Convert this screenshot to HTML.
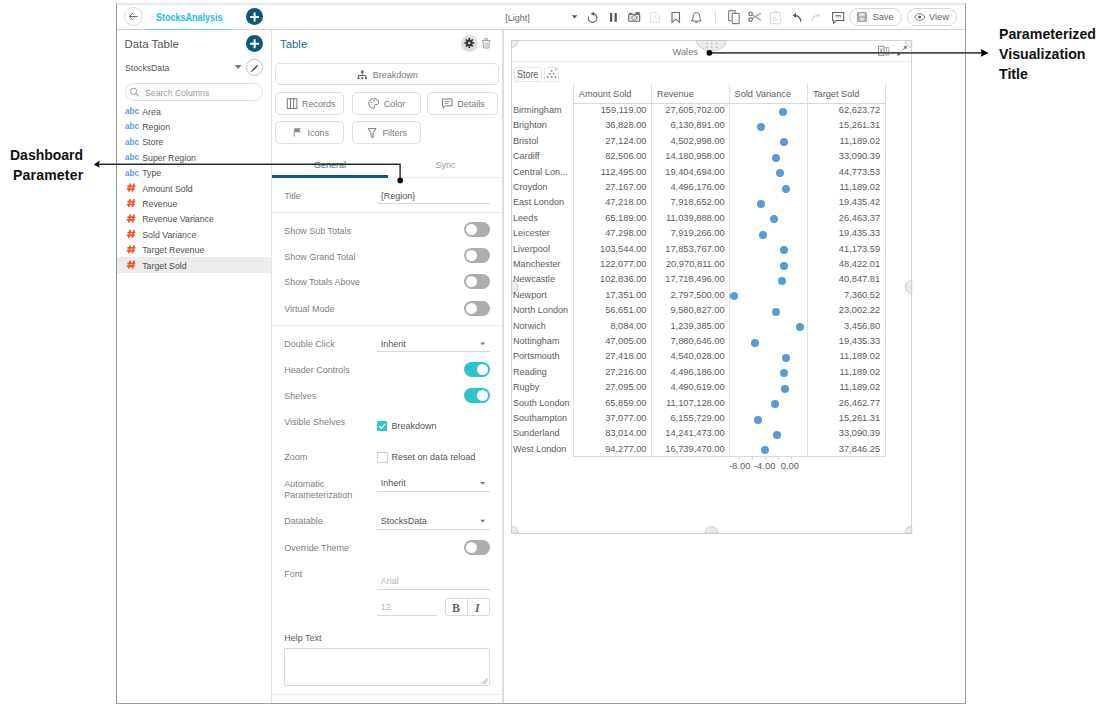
<!DOCTYPE html>
<html><head><meta charset="utf-8">
<style>
*{box-sizing:border-box;margin:0;padding:0}
html,body{width:1101px;height:708px;overflow:hidden;background:#fff;font-family:"Liberation Sans",sans-serif;color:#555}
.a{position:absolute}
.t{position:absolute;white-space:nowrap;line-height:1}
svg{position:absolute;overflow:visible}
.circ{position:absolute;border-radius:50%}
.btn{position:absolute;border:1px solid #dedede;border-radius:5px;background:#fff}
.lbl{position:absolute;white-space:nowrap;font-size:9px;color:#808080;line-height:1}
.val{position:absolute;white-space:nowrap;font-size:9px;color:#555;line-height:1}
.tog{position:absolute;width:26px;height:15px;border-radius:8px;background:#adadad}
.tog:after{content:"";position:absolute;top:2px;left:2px;width:11px;height:11px;border-radius:50%;background:#fff}
.tog.on{background:#2fc4ca}
.tog.on:after{left:13px}
.ul{position:absolute;height:1px;background:#d9d9d9}
.fld{position:absolute;white-space:nowrap;font-size:9px;color:#555;line-height:1}
.ann{position:absolute;white-space:nowrap;font-size:14px;font-weight:bold;color:#111;line-height:1}
.li{position:absolute;left:117px;width:153px;height:15px}
.li .ic{position:absolute;left:8px;top:3px;font-size:8px;font-weight:bold;color:#5b8fe8;line-height:1}
.li .ic.h{left:9px;top:1px;font-size:11px;color:#f0552a}
.li .nm{position:absolute;left:25px;top:3px;font-size:9px;color:#555;line-height:1;white-space:nowrap}
.row{position:absolute;left:0;width:100%;height:15px}
.c{position:absolute;white-space:nowrap;font-size:9px;color:#555;line-height:1;top:3px}
.dot{position:absolute;width:8px;height:8px;border-radius:50%;background:#5b9bd5}
.hd{position:absolute;width:10px;height:5px;background:#ececec;border:1px solid #cfcfcf}
</style></head><body>
<!-- ============ annotations ============ -->
<div class="ann" style="left:10px;top:148px">Dashboard</div>
<div class="ann" style="left:13px;top:168px;letter-spacing:0.2px">Parameter</div>
<div class="ann" style="left:999px;top:27px;font-size:14.2px">Parameterized</div>
<div class="ann" style="left:999px;top:47px;font-size:14.2px">Visualization</div>
<div class="ann" style="left:999px;top:67px;font-size:14.2px">Title</div>

<!-- ============ frame ============ -->
<div class="a" style="left:118px;top:3.3px;width:846px;height:1.6px;background:#e6e7ea"></div>
<div class="a" style="left:116px;top:3px;width:1px;height:701px;background:#999"></div>
<div class="a" style="left:965px;top:3px;width:1px;height:701px;background:#999"></div>
<div class="a" style="left:116px;top:703px;width:850px;height:1px;background:#a3a3a3"></div>

<!-- ============ header ============ -->
<div class="a" style="left:117px;top:29px;width:848px;height:1px;background:#d0d0d0"></div>
<div class="a" style="left:146px;top:28.5px;width:85px;height:1.6px;background:#5cd3ef"></div>
<div class="circ" style="left:124px;top:7px;width:19px;height:19px;border:1px solid #dcdcdc"></div>
<svg style="left:0;top:0" width="1" height="1"><path d="M137.5 16.5H129.5M133 13L129.5 16.5L133 20" fill="none" stroke="#666" stroke-width="1"/></svg>
<div class="t" style="left:155.6px;top:11.9px;font-size:10.6px;font-weight:bold;color:#2db6e4;transform:scaleX(0.85);transform-origin:0 0">StocksAnalysis</div>
<div class="circ" style="left:246px;top:8px;width:17px;height:17px;background:#0d5878"></div>
<svg style="left:0;top:0" width="1" height="1"><path d="M254.6 12.5V21.5M250.1 17H259.1" stroke="#fff" stroke-width="2"/></svg>

<!-- toolbar -->
<div class="t" style="left:505.3px;top:13.5px;font-size:9px;color:#666">[Light]</div>
<svg style="left:0;top:0" width="1" height="1"><path d="M571.8 15.2H577.4L574.6 18.4Z" fill="#555"/></svg>
<svg style="left:0;top:0" width="1" height="1">
 <!-- refresh -->
 <path d="M593 13.75A4.3 4.3 0 1 1 588.56 16.6" fill="none" stroke="#555" stroke-width="1.1"/>
 <path d="M594.2 11.8L594.2 15.8L590.5 13.8Z" fill="#555"/>
 <!-- pause -->
 <rect x="610" y="13" width="2.2" height="8.8" fill="#555"/><rect x="614.6" y="13" width="2.2" height="8.8" fill="#555"/>
 <!-- camera -->
 <rect x="628.7" y="14.3" width="11" height="7" rx="0.8" fill="none" stroke="#666" stroke-width="1.1"/>
 <rect x="629.2" y="12.9" width="3" height="1.6" fill="#666"/><rect x="635.4" y="12.2" width="4.4" height="2.3" fill="#666"/>
 <circle cx="634.2" cy="17.9" r="2.4" fill="none" stroke="#777" stroke-width="1"/><circle cx="634.2" cy="17.9" r="0.7" fill="#888"/>
 <path d="M630.7 15.6V20.4M637.7 15.6V20.4" stroke="#999" stroke-width="0.6"/>
 <!-- pdf faded -->
 <path d="M650.5 12.4H656.5L659.6 15.5V22.3H650.5Z" fill="none" stroke="#e2e2e2" stroke-width="1"/>
 <path d="M653 20L655 15.5L657 20" fill="none" stroke="#e6e6e6" stroke-width="0.8"/>
 <!-- bookmark -->
 <path d="M672 12.5H679.5V22.3L675.75 19.2L672 22.3Z" fill="none" stroke="#666" stroke-width="1.1"/>
 <!-- bell -->
 <path d="M691.6 21H701.2C700 19.5 699.8 18.5 699.8 16.5C699.8 14.2 698.4 12.6 696.4 12.6C694.4 12.6 693 14.2 693 16.5C693 18.5 692.8 19.5 691.6 21Z" fill="none" stroke="#666" stroke-width="1"/>
 <path d="M695.2 22.3H697.6" stroke="#555" stroke-width="1.1"/>
 <!-- separator -->
 <path d="M715.5 11V23" stroke="#ddd" stroke-width="1"/>
 <!-- copy -->
 <path d="M731 20.6H729.5Q728.6 20.6 728.6 19.7V11.5Q728.6 10.6 729.5 10.6H734.3Q735.2 10.6 735.2 11.5V13" fill="none" stroke="#808080" stroke-width="1.1"/>
 <rect x="732.2" y="13.4" width="7" height="10.2" rx="0.9" fill="none" stroke="#808080" stroke-width="1.2"/>
 <!-- scissors -->
 <circle cx="750.6" cy="13.8" r="1.75" fill="none" stroke="#777" stroke-width="1.2"/>
 <circle cx="750.6" cy="19.6" r="1.75" fill="none" stroke="#777" stroke-width="1.2"/>
 <path d="M752.2 14.8L760.8 20.3M752.2 18.6L760.8 13.2" stroke="#999" stroke-width="1.2"/>
 <!-- clipboard faded -->
 <rect x="770.3" y="12.5" width="10" height="11.3" rx="1" fill="none" stroke="#d6d6d6" stroke-width="1"/>
 <path d="M773 12.5L775.3 10.5L777.6 12.5M772.5 17.5H776M772.5 20H778" fill="none" stroke="#d6d6d6" stroke-width="1"/>
 <!-- undo -->
 <path d="M800.8 21.6C800.5 17.8 798.5 15.6 794.5 15.4" fill="none" stroke="#555" stroke-width="1.3"/>
 <path d="M792.7 15.4L796 13L796 18Z" fill="#555"/>
 <!-- redo faded -->
 <path d="M812 21.6C812.3 17.8 814.3 15.6 818.3 15.4" fill="none" stroke="#d4d4d4" stroke-width="1.2"/>
 <path d="M820.3 15.4L817 13.2L817 17.6Z" fill="#d4d4d4"/>
 <!-- comment -->
 <path d="M832.6 12.5H843.7V20.5H836.2L833.6 23.2V20.5H832.6Z" fill="none" stroke="#666" stroke-width="1.1"/>
 <path d="M835.6 15.5H840.8M836.1 15.5V17.3M838.2 15.5V17.3M840.3 15.5V17.3" stroke="#666" stroke-width="0.8"/>
</svg>
<!-- Save / View -->
<div class="a" style="left:849px;top:8px;width:53px;height:18px;border:1px solid #d8d8d8;border-radius:9px"></div>
<svg style="left:0;top:0" width="1" height="1">
 <rect x="857.4" y="12.6" width="9" height="9" rx="1.2" fill="#b0b0b0" stroke="#8c8c8c" stroke-width="0.8"/>
 <rect x="859.2" y="13.2" width="5.4" height="3" fill="#e6e6e6"/>
 <rect x="859.6" y="17.8" width="4.6" height="3" rx="1" fill="#dcdcdc"/>
</svg>
<div class="t" style="left:872.5px;top:12.5px;font-size:9.3px;color:#666">Save</div>
<div class="a" style="left:907px;top:8px;width:50px;height:18px;border:1px solid #d8d8d8;border-radius:9px"></div>
<svg style="left:0;top:0" width="1" height="1">
 <path d="M914.5 17C916.5 14.2 918.6 13.5 919.7 13.5C920.8 13.5 922.9 14.2 924.9 17C922.9 19.8 920.8 20.5 919.7 20.5C918.6 20.5 916.5 19.8 914.5 17Z" fill="none" stroke="#777" stroke-width="1"/>
 <circle cx="919.7" cy="17" r="1.6" fill="#666"/>
</svg>
<div class="t" style="left:929px;top:12.5px;font-size:9.3px;color:#666">View</div>
<!-- ============ left panel ============ -->
<div class="a" style="left:271px;top:30px;width:1px;height:673px;background:#e3e3e3"></div>
<div class="t" style="left:124.5px;top:38.5px;font-size:11.4px;color:#555">Data Table</div>
<div class="circ" style="left:246px;top:35px;width:17px;height:17px;background:#0d5878"></div>
<svg style="left:0;top:0" width="1" height="1"><path d="M254.6 39.2V48.2M250.1 43.7H259.1" stroke="#fff" stroke-width="2"/></svg>
<div class="t" style="left:125px;top:64.4px;font-size:8.7px;color:#555">StocksData</div>
<svg style="left:0;top:0" width="1" height="1"><path d="M234.6 64.9H241.6L238.1 69.1Z" fill="#777"/></svg>
<div class="circ" style="left:246.2px;top:59px;width:17.2px;height:17.2px;border:1.2px solid #c2c2c2"></div>
<svg style="left:0;top:0" width="1" height="1"><path d="M252.4 70.6L257.6 65.4" stroke="#333" stroke-width="1.3"/><path d="M250.9 72.1L251.4 70.3L252.7 71.6Z" fill="#444"/></svg>
<div class="a" style="left:124.5px;top:83.3px;width:138.8px;height:17.4px;border:1px solid #e0e0e0;border-radius:9px"></div>
<svg style="left:0;top:0" width="1" height="1"><circle cx="133.6" cy="91.3" r="3.1" fill="none" stroke="#9a9a9a" stroke-width="1"/><path d="M135.9 93.6L138.3 96" stroke="#9a9a9a" stroke-width="1.1"/></svg>
<div class="t" style="left:145px;top:88.7px;font-size:8.7px;color:#9a9a9a">Search Columns</div>
<div class="a" style="left:117px;top:257.4px;width:154px;height:15.2px;background:#ececec"></div>
<div class="t" style="left:124.9px;top:108.0px;font-size:8.2px;font-weight:bold;color:#6396f2">abc</div><div class="t" style="left:142.2px;top:107.6px;font-size:8.8px;color:#4f4f4f">Area</div>
<div class="t" style="left:124.9px;top:123.4px;font-size:8.2px;font-weight:bold;color:#6396f2">abc</div><div class="t" style="left:142.2px;top:123.0px;font-size:8.8px;color:#4f4f4f">Region</div>
<div class="t" style="left:124.9px;top:138.8px;font-size:8.2px;font-weight:bold;color:#6396f2">abc</div><div class="t" style="left:142.2px;top:138.4px;font-size:8.8px;color:#4f4f4f">Store</div>
<div class="t" style="left:124.9px;top:154.2px;font-size:8.2px;font-weight:bold;color:#6396f2">abc</div><div class="t" style="left:142.2px;top:153.8px;font-size:8.8px;color:#4f4f4f">Super Region</div>
<div class="t" style="left:124.9px;top:169.6px;font-size:8.2px;font-weight:bold;color:#6396f2">abc</div><div class="t" style="left:142.2px;top:169.2px;font-size:8.8px;color:#4f4f4f">Type</div>
<div class="t" style="left:142.2px;top:184.6px;font-size:8.8px;color:#4f4f4f">Amount Sold</div>
<div class="t" style="left:142.2px;top:200.0px;font-size:8.8px;color:#4f4f4f">Revenue</div>
<div class="t" style="left:142.2px;top:215.4px;font-size:8.8px;color:#4f4f4f">Revenue Variance</div>
<div class="t" style="left:142.2px;top:230.8px;font-size:8.8px;color:#4f4f4f">Sold Variance</div>
<div class="t" style="left:142.2px;top:246.2px;font-size:8.8px;color:#4f4f4f">Target Revenue</div>
<div class="t" style="left:142.2px;top:261.6px;font-size:8.8px;color:#4f4f4f">Target Sold</div>
<svg style="left:0;top:0" width="1" height="1"><g stroke="#f7521f" stroke-width="1.7" fill="none"><path d="M130.3 183.7L128.7 191.7M134 183.7L132.4 191.7M127.4 186.3H135.3M126.8 189.1H134.7"/><path d="M130.3 199.1L128.7 207.1M134 199.1L132.4 207.1M127.4 201.7H135.3M126.8 204.5H134.7"/><path d="M130.3 214.5L128.7 222.5M134 214.5L132.4 222.5M127.4 217.1H135.3M126.8 219.9H134.7"/><path d="M130.3 229.9L128.7 237.9M134 229.9L132.4 237.9M127.4 232.5H135.3M126.8 235.3H134.7"/><path d="M130.3 245.3L128.7 253.3M134 245.3L132.4 253.3M127.4 247.9H135.3M126.8 250.7H134.7"/><path d="M130.3 260.7L128.7 268.7M134 260.7L132.4 268.7M127.4 263.3H135.3M126.8 266.1H134.7"/></g></svg>
<!-- ============ middle panel ============ -->
<div class="a" style="left:502px;top:30px;width:2px;height:673px;background:#dcdcdc"></div>
<div class="t" style="left:280px;top:39px;font-size:11.4px;color:#2a6b86">Table</div>
<div class="circ" style="left:460.9px;top:34.6px;width:17px;height:17px;background:#dedede"></div>
<svg style="left:0;top:0" width="1" height="1">
 <g transform="translate(469.3 43)">
  <circle r="3.2" fill="#333"/>
  <path d="M0 -5V5M-5 0H5M-3.5 -3.5L3.5 3.5M-3.5 3.5L3.5 -3.5" stroke="#333" stroke-width="1.7"/>
  <circle r="1.3" fill="#dedede"/>
 </g>
 <!-- trash -->
 <path d="M481.9 40.6H490.4M484.6 40.6V38.8H487.7V40.6" fill="none" stroke="#999" stroke-width="1"/>
 <path d="M482.9 41.2L483.5 48H488.8L489.4 41.2" fill="none" stroke="#999" stroke-width="1"/>
 <path d="M485 42.2V47M486.15 42.2V47M487.3 42.2V47" stroke="#b0b0b0" stroke-width="0.7"/>
</svg>

<!-- shelves buttons -->
<div class="btn" style="left:274.8px;top:62.7px;width:224.5px;height:22.3px"></div>
<svg style="left:0;top:0" width="1" height="1">
 <rect x="361" y="70.5" width="2.6" height="2.6" fill="#666"/>
 <path d="M362.3 73V75.5M358.5 78V75.5H366V78" fill="none" stroke="#666" stroke-width="1"/>
 <rect x="357.6" y="77.2" width="2" height="2" fill="#666"/><rect x="365" y="77.2" width="2" height="2" fill="#666"/><rect x="361.3" y="77.2" width="2" height="2" fill="#666"/>
</svg>
<div class="t" style="left:372.8px;top:71.2px;font-size:9px;color:#7a7a7a">Breakdown</div>

<div class="btn" style="left:274.8px;top:91.7px;width:69.7px;height:22.9px"></div>
<svg style="left:0;top:0" width="1" height="1"><rect x="287.3" y="98.8" width="9.6" height="9.6" fill="none" stroke="#777" stroke-width="1"/><path d="M290.5 98.8V108.4M293.7 98.8V108.4" stroke="#777" stroke-width="1"/></svg>
<div class="t" style="left:302px;top:100.4px;font-size:9px;color:#7a7a7a">Records</div>

<div class="btn" style="left:351.5px;top:91.7px;width:69.8px;height:22.9px"></div>
<svg style="left:0;top:0" width="1" height="1"><path d="M373.5 108.2C370.4 108.2 368.8 105.8 368.8 103.4C368.8 100.6 371 98.6 373.8 98.6C376.6 98.6 378.6 100.4 378.6 102.4C378.6 104.2 377.2 104.6 376 104.6C374.6 104.6 374 105.2 374.4 106.4C374.8 107.4 374.6 108.2 373.5 108.2Z" fill="none" stroke="#777" stroke-width="1"/><circle cx="371.4" cy="102.2" r="0.8" fill="#777"/><circle cx="374" cy="100.8" r="0.8" fill="#777"/></svg>
<div class="t" style="left:383.8px;top:100.4px;font-size:9px;color:#7a7a7a">Color</div>

<div class="btn" style="left:427.4px;top:91.7px;width:70.2px;height:22.9px"></div>
<svg style="left:0;top:0" width="1" height="1"><path d="M442.4 99H452V105.8H445.5L443.2 108V105.8H442.4Z" fill="none" stroke="#777" stroke-width="1"/><path d="M444.6 101.6H449.8M444.6 103.4H448.5" stroke="#777" stroke-width="0.8"/></svg>
<div class="t" style="left:457.2px;top:100.4px;font-size:9px;color:#7a7a7a">Details</div>

<div class="btn" style="left:274.8px;top:121px;width:69.7px;height:22.8px"></div>
<svg style="left:0;top:0" width="1" height="1"><path d="M294.3 128.2V136.8" stroke="#999" stroke-width="1"/><path d="M294.8 128.2H300.8L299.4 130.2L300.8 132.2H294.8Z" fill="#8a8a8a"/></svg>
<div class="t" style="left:307.5px;top:129.3px;font-size:9px;color:#7a7a7a">Icons</div>

<div class="btn" style="left:351.5px;top:121px;width:69.8px;height:22.8px"></div>
<svg style="left:0;top:0" width="1" height="1"><path d="M368.2 128.6H376L373.2 132.6V137.6L371 136.4V132.6Z" fill="none" stroke="#777" stroke-width="1" stroke-linejoin="round"/></svg>
<div class="t" style="left:382.6px;top:129.3px;font-size:9px;color:#7a7a7a">Filters</div>

<!-- tabs -->
<div class="t" style="left:314px;top:160.8px;font-size:9px;color:#3f6f86">General</div>
<div class="t" style="left:435.4px;top:160.8px;font-size:9px;color:#9a9a9a">Sync</div>
<div class="a" style="left:272px;top:177px;width:230px;height:1px;background:#ececec"></div>
<div class="a" style="left:271.5px;top:175px;width:116px;height:2.5px;background:#0d5878"></div>

<!-- fields -->
<div class="lbl" style="left:284.2px;top:192.4px">Title</div>
<div class="fld" style="left:380.7px;top:192.2px">{Region}</div>
<div class="ul" style="left:377px;top:203px;width:113px"></div>
<div class="a" style="left:272px;top:212px;width:230px;height:1px;background:#ececec"></div>

<div class="lbl" style="left:284.2px;top:226.5px">Show Sub Totals</div>
<div class="tog" style="left:463.9px;top:222.4px"></div>
<div class="lbl" style="left:284.2px;top:252.5px">Show Grand Total</div>
<div class="tog" style="left:463.9px;top:248.4px"></div>
<div class="lbl" style="left:284.2px;top:278.4px">Show Totals Above</div>
<div class="tog" style="left:463.9px;top:274.4px"></div>
<div class="lbl" style="left:284.2px;top:304.9px">Virtual Mode</div>
<div class="tog" style="left:463.9px;top:300.8px"></div>
<div class="a" style="left:272px;top:325px;width:230px;height:1px;background:#ececec"></div>

<div class="lbl" style="left:284.2px;top:339.7px">Double Click</div>
<div class="fld" style="left:380.7px;top:339.5px">Inherit</div>
<svg style="left:0;top:0" width="1" height="1"><path d="M480.2 342.5H485.2L482.7 345.2Z" fill="#777"/></svg>
<div class="ul" style="left:377px;top:351px;width:113px"></div>

<div class="lbl" style="left:284.2px;top:365.6px">Header Controls</div>
<div class="tog on" style="left:463.9px;top:361.6px"></div>
<div class="lbl" style="left:284.2px;top:392.1px">Shelves</div>
<div class="tog on" style="left:463.9px;top:388px"></div>

<div class="lbl" style="left:284.2px;top:418.1px">Visible Shelves</div>
<div class="a" style="left:377px;top:421px;width:10.3px;height:10.3px;background:#2fc4ca;border-radius:1px"></div>
<svg style="left:0;top:0" width="1" height="1"><path d="M379.2 426.2L381.4 428.4L385.2 423.8" fill="none" stroke="#fff" stroke-width="1.3"/></svg>
<div class="fld" style="left:391.6px;top:422.1px">Breakdown</div>

<div class="lbl" style="left:284.2px;top:452.6px">Zoom</div>
<div class="a" style="left:377px;top:452px;width:10.5px;height:10.5px;border:1px solid #cfcfcf;border-radius:1px"></div>
<div class="fld" style="left:391.6px;top:452.6px">Reset on data reload</div>

<div class="lbl" style="left:284.2px;top:479.9px">Automatic</div>
<div class="lbl" style="left:284.2px;top:491.4px">Parameterization</div>
<div class="fld" style="left:380.7px;top:479px">Inherit</div>
<svg style="left:0;top:0" width="1" height="1"><path d="M480.2 482H485.2L482.7 484.7Z" fill="#777"/></svg>
<div class="ul" style="left:377px;top:491px;width:113px"></div>

<div class="lbl" style="left:284.2px;top:517.4px">Datatable</div>
<div class="fld" style="left:380.7px;top:517.2px">StocksData</div>
<svg style="left:0;top:0" width="1" height="1"><path d="M480.2 519.8H485.2L482.7 522.5Z" fill="#777"/></svg>
<div class="ul" style="left:377px;top:529px;width:113px"></div>

<div class="lbl" style="left:284.2px;top:543.9px">Override Theme</div>
<div class="tog" style="left:463.9px;top:540px"></div>

<div class="lbl" style="left:284.2px;top:569.9px">Font</div>
<div class="fld" style="left:380.7px;top:576.6px;color:#b5b5b5">Arial</div>
<div class="ul" style="left:377px;top:589px;width:113px"></div>
<div class="fld" style="left:380.7px;top:603.1px;color:#b5b5b5">12</div>
<div class="ul" style="left:377px;top:615px;width:60px"></div>
<div class="a" style="left:444.7px;top:598px;width:45.2px;height:18.2px;border:1px solid #dadada;border-radius:3px"></div>
<div class="a" style="left:467.4px;top:598.5px;width:1px;height:17.5px;background:#dadada"></div>
<div class="t" style="left:452px;top:601.5px;font-family:'Liberation Serif',serif;font-size:12px;font-weight:bold;color:#666">B</div>
<div class="t" style="left:475px;top:601.5px;font-family:'Liberation Serif',serif;font-size:12px;font-weight:bold;font-style:italic;color:#666">I</div>

<div class="lbl" style="left:284.2px;top:634.1px;color:#5a5a5a">Help Text</div>
<div class="a" style="left:284.2px;top:647.5px;width:205.5px;height:38.3px;border:1px solid #d9d9d9;border-radius:2px"></div>
<svg style="left:0;top:0" width="1" height="1"><path d="M481.5 684L487.5 678M484 684L487.5 680.5" stroke="#888" stroke-width="0.8"/></svg>
<div class="a" style="left:272px;top:693.5px;width:230px;height:1px;background:#ececec"></div>
<!-- ============ visualization ============ -->
<div class="a" style="left:511px;top:40px;width:401px;height:493.5px;border:1px solid #d2d2d2"></div>
<div class="a" style="left:512px;top:60.5px;width:399px;height:1px;background:#ececec"></div>
<svg style="left:0;top:0" width="1" height="1">
 <path d="M511.5 47.3A6.8 6.8 0 0 0 518.3 40.5H511.5Z" fill="#ececec" stroke="#c8c8c8" stroke-width="0.9"/>
 <path d="M911.8 47.3A6.8 6.8 0 0 1 905 40.5H911.8Z" fill="#ececec" stroke="#c8c8c8" stroke-width="0.9"/>
 <path d="M511.5 526.2A6.8 6.8 0 0 1 518.3 533H511.5Z" fill="#ececec" stroke="#c8c8c8" stroke-width="0.9"/>
 <path d="M911.8 526.2A6.8 6.8 0 0 0 905 533H911.8Z" fill="#ececec" stroke="#c8c8c8" stroke-width="0.9"/>
 <path d="M511.5 280.5A6.5 6.5 0 0 1 511.5 293.5Z" fill="#ececec" stroke="#c8c8c8" stroke-width="0.9"/>
 <path d="M911.8 280.5A6.5 6.5 0 0 0 911.8 293.5Z" fill="#ececec" stroke="#c8c8c8" stroke-width="0.9"/>
 <path d="M705 533A6.5 6.5 0 0 1 718 533Z" fill="#ececec" stroke="#c8c8c8" stroke-width="0.9"/>
 <path d="M696.3 40.5C697.5 47 703.5 50.8 711.4 50.8C719.3 50.8 725.3 47 726.5 40.5Z" fill="#ececec" stroke="#c6c6c6" stroke-width="0.9"/>
 <g fill="#c2c2c2"><circle cx="707" cy="43.5" r="1"/><circle cx="711.7" cy="43.5" r="1"/><circle cx="716.5" cy="43.5" r="1"/><circle cx="707" cy="47.3" r="1"/><circle cx="711.7" cy="47.3" r="1"/><circle cx="716.5" cy="47.3" r="1"/></g>
 <!-- excel icon -->
 <path d="M878.5 46.2H884V55.4H878.5Z" fill="none" stroke="#8a8a8a" stroke-width="1"/>
 <path d="M880 48.5L882.5 52.8M882.5 48.5L880 52.8" stroke="#7a7a7a" stroke-width="0.8"/>
 <path d="M884.5 47.6H888.8V55H884.5M886.6 47.6V55" fill="none" stroke="#a0a0a0" stroke-width="0.9"/>
 <!-- expand icon -->
 <path d="M902.4 50.2L906 46.8M897.8 55L901.2 51.8" stroke="#777" stroke-width="1"/>
 <path d="M906.8 46L903.4 46.6L906.2 49.4Z" fill="#666"/>
 <path d="M897.2 55.6L900.6 55L897.8 52.2Z" fill="#555"/>
</svg>
<div class="t" style="left:672.5px;top:47.7px;font-size:9.3px;color:#7a7a7a">Wales</div>

<div class="a" style="left:514px;top:66.5px;width:28.2px;height:15px;border:1px solid #e8e8e8;border-radius:2px"></div>
<div class="t" style="left:517.4px;top:68.6px;font-size:10.5px;color:#5c5c5c;transform:scaleX(0.85);transform-origin:0 0">Store</div>
<div class="a" style="left:544.3px;top:66.5px;width:15px;height:15px;border:1px solid #e8e8e8;border-radius:2px"></div>
<svg style="left:0;top:0" width="1" height="1"><g fill="#8a8a8a"><circle cx="551.6" cy="70.8" r="0.95"/><circle cx="549.7" cy="73.9" r="0.95"/><circle cx="553.6" cy="73.9" r="0.95"/><circle cx="547.7" cy="77" r="0.95"/><circle cx="551.6" cy="77" r="0.95"/><circle cx="555.5" cy="77" r="0.95"/></g><path d="M555.9 68.3V70.9M554.6 69.6H557.2" stroke="#aaa" stroke-width="0.7"/></svg>

<!-- grid -->
<div class="a" style="left:572.5px;top:84px;width:1px;height:373px;background:#e0e0e0"></div>
<div class="a" style="left:650.5px;top:84px;width:1px;height:373px;background:#e0e0e0"></div>
<div class="a" style="left:728.5px;top:84px;width:1px;height:373px;background:#e0e0e0"></div>
<div class="a" style="left:806.5px;top:84px;width:1px;height:373px;background:#e0e0e0"></div>
<div class="a" style="left:884.5px;top:84px;width:1px;height:373px;background:#e0e0e0"></div>
<div class="a" style="left:572.5px;top:103px;width:313px;height:1px;background:#d8d8d8"></div>
<div class="a" style="left:572.5px;top:456px;width:313px;height:1px;background:#d8d8d8"></div>
<div class="t" style="left:578.8px;top:90.2px;font-size:9.2px;color:#5c5c5c">Amount Sold</div>
<div class="t" style="left:657px;top:90.2px;font-size:9.2px;color:#5c5c5c">Revenue</div>
<div class="t" style="left:734.5px;top:90.2px;font-size:9.2px;color:#5c5c5c">Sold Variance</div>
<div class="t" style="left:813px;top:90.2px;font-size:9.2px;color:#5c5c5c">Target Sold</div>
<div class="t" style="left:513px;top:105.9px;font-size:9.1px;color:#5c5c5c">Birmingham</div><div class="t" style="right:454.5px;top:105.9px;font-size:9.3px;color:#5c5c5c">159,119.00</div><div class="t" style="right:376.3px;top:105.9px;font-size:9.3px;color:#5c5c5c">27,605,702.00</div><div class="t" style="right:220.8px;top:105.9px;font-size:9.3px;color:#5c5c5c">62,623.72</div><div class="dot" style="left:779.0px;top:107.6px"></div>
<div class="t" style="left:513px;top:121.3px;font-size:9.1px;color:#5c5c5c">Brighton</div><div class="t" style="right:454.5px;top:121.3px;font-size:9.3px;color:#5c5c5c">36,828.00</div><div class="t" style="right:376.3px;top:121.3px;font-size:9.3px;color:#5c5c5c">6,130,891.00</div><div class="t" style="right:220.8px;top:121.3px;font-size:9.3px;color:#5c5c5c">15,261.31</div><div class="dot" style="left:756.6px;top:123.0px"></div>
<div class="t" style="left:513px;top:136.7px;font-size:9.1px;color:#5c5c5c">Bristol</div><div class="t" style="right:454.5px;top:136.7px;font-size:9.3px;color:#5c5c5c">27,124.00</div><div class="t" style="right:376.3px;top:136.7px;font-size:9.3px;color:#5c5c5c">4,502,998.00</div><div class="t" style="right:220.8px;top:136.7px;font-size:9.3px;color:#5c5c5c">11,189.02</div><div class="dot" style="left:779.8px;top:138.4px"></div>
<div class="t" style="left:513px;top:152.1px;font-size:9.1px;color:#5c5c5c">Cardiff</div><div class="t" style="right:454.5px;top:152.1px;font-size:9.3px;color:#5c5c5c">82,506.00</div><div class="t" style="right:376.3px;top:152.1px;font-size:9.3px;color:#5c5c5c">14,180,958.00</div><div class="t" style="right:220.8px;top:152.1px;font-size:9.3px;color:#5c5c5c">33,090.39</div><div class="dot" style="left:771.8px;top:153.8px"></div>
<div class="t" style="left:513px;top:167.5px;font-size:9.1px;color:#5c5c5c">Central Lon...</div><div class="t" style="right:454.5px;top:167.5px;font-size:9.3px;color:#5c5c5c">112,495.00</div><div class="t" style="right:376.3px;top:167.5px;font-size:9.3px;color:#5c5c5c">19,404,694.00</div><div class="t" style="right:220.8px;top:167.5px;font-size:9.3px;color:#5c5c5c">44,773.53</div><div class="dot" style="left:776.1px;top:169.2px"></div>
<div class="t" style="left:513px;top:182.9px;font-size:9.1px;color:#5c5c5c">Croydon</div><div class="t" style="right:454.5px;top:182.9px;font-size:9.3px;color:#5c5c5c">27,167.00</div><div class="t" style="right:376.3px;top:182.9px;font-size:9.3px;color:#5c5c5c">4,496,176.00</div><div class="t" style="right:220.8px;top:182.9px;font-size:9.3px;color:#5c5c5c">11,189.02</div><div class="dot" style="left:781.9px;top:184.6px"></div>
<div class="t" style="left:513px;top:198.3px;font-size:9.1px;color:#5c5c5c">East London</div><div class="t" style="right:454.5px;top:198.3px;font-size:9.3px;color:#5c5c5c">47,218.00</div><div class="t" style="right:376.3px;top:198.3px;font-size:9.3px;color:#5c5c5c">7,918,652.00</div><div class="t" style="right:220.8px;top:198.3px;font-size:9.3px;color:#5c5c5c">19,435.42</div><div class="dot" style="left:756.5px;top:200.0px"></div>
<div class="t" style="left:513px;top:213.7px;font-size:9.1px;color:#5c5c5c">Leeds</div><div class="t" style="right:454.5px;top:213.7px;font-size:9.3px;color:#5c5c5c">65,189.00</div><div class="t" style="right:376.3px;top:213.7px;font-size:9.3px;color:#5c5c5c">11,039,888.00</div><div class="t" style="right:220.8px;top:213.7px;font-size:9.3px;color:#5c5c5c">26,463.37</div><div class="dot" style="left:770.3px;top:215.4px"></div>
<div class="t" style="left:513px;top:229.1px;font-size:9.1px;color:#5c5c5c">Leicester</div><div class="t" style="right:454.5px;top:229.1px;font-size:9.3px;color:#5c5c5c">47,298.00</div><div class="t" style="right:376.3px;top:229.1px;font-size:9.3px;color:#5c5c5c">7,919,266.00</div><div class="t" style="right:220.8px;top:229.1px;font-size:9.3px;color:#5c5c5c">19,435.33</div><div class="dot" style="left:759.4px;top:230.8px"></div>
<div class="t" style="left:513px;top:244.5px;font-size:9.1px;color:#5c5c5c">Liverpool</div><div class="t" style="right:454.5px;top:244.5px;font-size:9.3px;color:#5c5c5c">103,544.00</div><div class="t" style="right:376.3px;top:244.5px;font-size:9.3px;color:#5c5c5c">17,853,767.00</div><div class="t" style="right:220.8px;top:244.5px;font-size:9.3px;color:#5c5c5c">41,173.59</div><div class="dot" style="left:779.8px;top:246.2px"></div>
<div class="t" style="left:513px;top:259.9px;font-size:9.1px;color:#5c5c5c">Manchester</div><div class="t" style="right:454.5px;top:259.9px;font-size:9.3px;color:#5c5c5c">122,077.00</div><div class="t" style="right:376.3px;top:259.9px;font-size:9.3px;color:#5c5c5c">20,970,811.00</div><div class="t" style="right:220.8px;top:259.9px;font-size:9.3px;color:#5c5c5c">48,422.01</div><div class="dot" style="left:780.4px;top:261.6px"></div>
<div class="t" style="left:513px;top:275.3px;font-size:9.1px;color:#5c5c5c">Newcastle</div><div class="t" style="right:454.5px;top:275.3px;font-size:9.3px;color:#5c5c5c">102,836.00</div><div class="t" style="right:376.3px;top:275.3px;font-size:9.3px;color:#5c5c5c">17,718,496.00</div><div class="t" style="right:220.8px;top:275.3px;font-size:9.3px;color:#5c5c5c">40,847.81</div><div class="dot" style="left:778.1px;top:277.0px"></div>
<div class="t" style="left:513px;top:290.7px;font-size:9.1px;color:#5c5c5c">Newport</div><div class="t" style="right:454.5px;top:290.7px;font-size:9.3px;color:#5c5c5c">17,351.00</div><div class="t" style="right:376.3px;top:290.7px;font-size:9.3px;color:#5c5c5c">2,797,500.00</div><div class="t" style="right:220.8px;top:290.7px;font-size:9.3px;color:#5c5c5c">7,360.52</div><div class="dot" style="left:730.2px;top:292.4px"></div>
<div class="t" style="left:513px;top:306.1px;font-size:9.1px;color:#5c5c5c">North London</div><div class="t" style="right:454.5px;top:306.1px;font-size:9.3px;color:#5c5c5c">56,651.00</div><div class="t" style="right:376.3px;top:306.1px;font-size:9.3px;color:#5c5c5c">9,580,827.00</div><div class="t" style="right:220.8px;top:306.1px;font-size:9.3px;color:#5c5c5c">23,002.22</div><div class="dot" style="left:772.1px;top:307.8px"></div>
<div class="t" style="left:513px;top:321.5px;font-size:9.1px;color:#5c5c5c">Norwich</div><div class="t" style="right:454.5px;top:321.5px;font-size:9.3px;color:#5c5c5c">8,084.00</div><div class="t" style="right:376.3px;top:321.5px;font-size:9.3px;color:#5c5c5c">1,239,385.00</div><div class="t" style="right:220.8px;top:321.5px;font-size:9.3px;color:#5c5c5c">3,456.80</div><div class="dot" style="left:795.9px;top:323.2px"></div>
<div class="t" style="left:513px;top:336.9px;font-size:9.1px;color:#5c5c5c">Nottingham</div><div class="t" style="right:454.5px;top:336.9px;font-size:9.3px;color:#5c5c5c">47,005.00</div><div class="t" style="right:376.3px;top:336.9px;font-size:9.3px;color:#5c5c5c">7,880,646.00</div><div class="t" style="right:220.8px;top:336.9px;font-size:9.3px;color:#5c5c5c">19,435.33</div><div class="dot" style="left:751.1px;top:338.6px"></div>
<div class="t" style="left:513px;top:352.3px;font-size:9.1px;color:#5c5c5c">Portsmouth</div><div class="t" style="right:454.5px;top:352.3px;font-size:9.3px;color:#5c5c5c">27,418.00</div><div class="t" style="right:376.3px;top:352.3px;font-size:9.3px;color:#5c5c5c">4,540,028.00</div><div class="t" style="right:220.8px;top:352.3px;font-size:9.3px;color:#5c5c5c">11,189.02</div><div class="dot" style="left:782.1px;top:354.0px"></div>
<div class="t" style="left:513px;top:367.7px;font-size:9.1px;color:#5c5c5c">Reading</div><div class="t" style="right:454.5px;top:367.7px;font-size:9.3px;color:#5c5c5c">27,216.00</div><div class="t" style="right:376.3px;top:367.7px;font-size:9.3px;color:#5c5c5c">4,496,186.00</div><div class="t" style="right:220.8px;top:367.7px;font-size:9.3px;color:#5c5c5c">11,189.02</div><div class="dot" style="left:779.7px;top:369.4px"></div>
<div class="t" style="left:513px;top:383.1px;font-size:9.1px;color:#5c5c5c">Rugby</div><div class="t" style="right:454.5px;top:383.1px;font-size:9.3px;color:#5c5c5c">27,095.00</div><div class="t" style="right:376.3px;top:383.1px;font-size:9.3px;color:#5c5c5c">4,490,619.00</div><div class="t" style="right:220.8px;top:383.1px;font-size:9.3px;color:#5c5c5c">11,189.02</div><div class="dot" style="left:780.8px;top:384.8px"></div>
<div class="t" style="left:513px;top:398.5px;font-size:9.1px;color:#5c5c5c">South London</div><div class="t" style="right:454.5px;top:398.5px;font-size:9.3px;color:#5c5c5c">65,859.00</div><div class="t" style="right:376.3px;top:398.5px;font-size:9.3px;color:#5c5c5c">11,107,128.00</div><div class="t" style="right:220.8px;top:398.5px;font-size:9.3px;color:#5c5c5c">26,462.77</div><div class="dot" style="left:771.0px;top:400.2px"></div>
<div class="t" style="left:513px;top:413.9px;font-size:9.1px;color:#5c5c5c">Southampton</div><div class="t" style="right:454.5px;top:413.9px;font-size:9.3px;color:#5c5c5c">37,077.00</div><div class="t" style="right:376.3px;top:413.9px;font-size:9.3px;color:#5c5c5c">6,155,729.00</div><div class="t" style="right:220.8px;top:413.9px;font-size:9.3px;color:#5c5c5c">15,261.31</div><div class="dot" style="left:753.9px;top:415.6px"></div>
<div class="t" style="left:513px;top:429.3px;font-size:9.1px;color:#5c5c5c">Sunderland</div><div class="t" style="right:454.5px;top:429.3px;font-size:9.3px;color:#5c5c5c">83,014.00</div><div class="t" style="right:376.3px;top:429.3px;font-size:9.3px;color:#5c5c5c">14,241,473.00</div><div class="t" style="right:220.8px;top:429.3px;font-size:9.3px;color:#5c5c5c">33,090.39</div><div class="dot" style="left:773.3px;top:431.0px"></div>
<div class="t" style="left:513px;top:444.7px;font-size:9.1px;color:#5c5c5c">West London</div><div class="t" style="right:454.5px;top:444.7px;font-size:9.3px;color:#5c5c5c">94,277.00</div><div class="t" style="right:376.3px;top:444.7px;font-size:9.3px;color:#5c5c5c">16,739,470.00</div><div class="t" style="right:220.8px;top:444.7px;font-size:9.3px;color:#5c5c5c">37,846.25</div><div class="dot" style="left:761.1px;top:446.4px"></div>
<svg style="left:0;top:0" width="1" height="1"><path d="M739 457V459.5M752.5 457V459.5M765.5 457V459.5M778.5 457V459.5M791.5 457V459.5" stroke="#d0d0d0" stroke-width="1"/></svg>
<div class="t" style="left:729px;top:461.2px;font-size:9.4px;color:#5c5c5c">-8.00</div>
<div class="t" style="left:754px;top:461.2px;font-size:9.4px;color:#5c5c5c">-4.00</div>
<div class="t" style="left:780.8px;top:461.2px;font-size:9.4px;color:#5c5c5c">0.00</div>

<!-- ============ annotation lines ============ -->
<svg style="left:0;top:0" width="1" height="1">
 <path d="M98 164.3H400.1V180" fill="none" stroke="#2a2a2a" stroke-width="1.4"/>
 <path d="M93.9 164.4L99.8 160.4L98.6 164.4L99.8 167.8Z" fill="#000"/>
 <circle cx="400.2" cy="180.4" r="2.8" fill="#000"/>
 <path d="M709.4 52.9H982" fill="none" stroke="#4a4a4a" stroke-width="1.8"/>
 <path d="M988.6 52.9L980.8 48.9L981.6 52.9L980.8 56.8Z" fill="#000"/>
 <circle cx="709.4" cy="52.8" r="2.9" fill="#000"/>
</svg>
</body></html>
